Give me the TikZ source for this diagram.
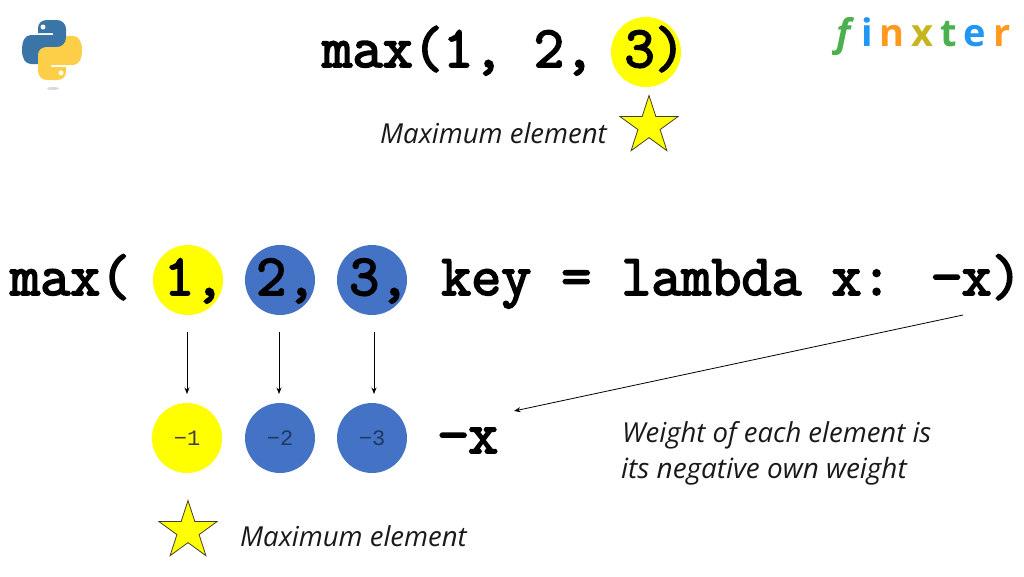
\documentclass[tikz,border=0pt]{standalone}
\usepackage{fontspec}
\usetikzlibrary{shapes.geometric,arrows.meta}
\setmainfont{Open Sans}
\newfontfamily\codefont[FakeBold=3]{Latin Modern Mono}
\newfontfamily\numfont{Liberation Mono}
\newfontfamily\logofont{Open Sans}
\definecolor{hlyellow}{HTML}{FFFF00}
\definecolor{hlblue}{HTML}{4472C4}
\definecolor{navy}{HTML}{1F3864}
\definecolor{pyblue}{HTML}{3A75A8}
\definecolor{pyyellow}{HTML}{FDCF48}
\definecolor{fgreen}{HTML}{4CAF50}
\definecolor{fblue}{HTML}{2196F3}
\definecolor{forange}{HTML}{FF9A1F}
\definecolor{folive}{HTML}{C6B51E}
\tikzset{
  code/.style={inner sep=0pt,anchor=base west,font=\codefont\fontsize{58.3}{58}\selectfont},
  topcodestyle/.style={inner sep=0pt,anchor=base west,font=\codefont\fontsize{58.7}{58}\selectfont},
  ital/.style={inner sep=0pt,anchor=base west,font=\itshape\fontsize{27.5}{30}\selectfont,text=black!90},
  ball/.style={circle,minimum size=70pt,inner sep=0pt,font=\numfont\fontsize{22}{22}\selectfont},
  yball/.style={ball,fill=hlyellow,text=black!75},
  bball/.style={ball,fill=hlblue,text=navy},
  maxstar/.style={star,star points=5,star point ratio=2.618,minimum size=61pt,inner sep=0pt,fill=hlyellow,draw=black!70!olive,line width=.8pt},
  conn/.style={draw=black,line width=.8pt,-{Stealth[length=6.5pt,width=5pt]}},
  flet/.style={inner sep=0pt,anchor=base west,font=\logofont\bfseries\fontsize{38}{38}\selectfont}
}
\begin{document}
\begin{tikzpicture}[x=1pt,y=-1pt]
\useasboundingbox (0,0) rectangle (1024,576);
% python logo
\fill[black!25,opacity=.6] (53,88.5) ellipse (6pt and 1.5pt);
\def\pysnake{(38,36) -- (38,28) .. controls (38,23) and (42,20) .. (47,20) -- (57,20) .. controls (62,20) and (66,24) .. (66,29) -- (66,45) .. controls (66,50) and (62,53) .. (57,53) -- (47,53) .. controls (42,53) and (38,57) .. (38,62) -- (38,64) -- (31,64) .. controls (25,64) and (22,58) .. (22,50) .. controls (22,41) and (25,35) .. (31,35) -- (53,35) -- (53,33) -- (38,33) -- cycle}
\fill[pyblue] \pysnake;
\fill[white] (43,27) circle (2.5pt);
\begin{scope}[rotate around={180:(52,50)}]
\fill[pyyellow] \pysnake;
\fill[white] (43,27) circle (2.5pt);
\end{scope}
% finxter
\node[flet,text=fgreen,font=\logofont\bfseries\itshape\fontsize{38}{38}\selectfont] (lf) at (836,46) {f};
\node[flet,text=fblue] (li) at (861,46) {i};
\node[flet,text=forange] (ln) at (879,46) {n};
\node[flet,text=folive] (lx) at (911,46) {x};
\node[flet,text=fgreen] (lt) at (940,46) {t};
\node[flet,text=fblue] (le) at (963,46) {e};
\node[flet,text=forange] (lr) at (993,46) {r};
% top
\node[yball] (top3) at (646,52) {};
\node[topcodestyle] (topcode) at (322,67) {max(1, 2, 3)};
\node[ital] (topmax) at (380,143) {Maximum element};
\node[maxstar] (topstar) at (649,126) {};
% main row
\node[yball] (c1) at (188,280) {};
\node[bball] (c2) at (280,280) {};
\node[bball] (c3) at (372,280) {};
\node[code] (mx) at (10,295) {max(};
\node[code] (n1) at (164,295) {1,};
\node[code] (n2) at (256,295) {2,};
\node[code] (n3) at (349,295) {3,};
\node[code] (key) at (441,295) {key = lambda x: −x)};
% lower row
\node[yball] (d1) at (187,438) {−1};
\node[bball] (d2) at (280,438) {−2};
\node[bball] (d3) at (372,438) {−3};
\node[code] (negx) at (438,453) {−x};
\node[ital] (w1) at (622,442) {Weight of each element is};
\node[ital,font=\itshape\fontsize{27.9}{30}\selectfont] (w2) at (621,478) {its negative own weight};
\node[maxstar] (botstar) at (188,531) {};
\node[ital] (botmax) at (240,546) {Maximum element};
% connectors
\coordinate (a1s) at (187,332); \coordinate (a1e) at (187,394);
\coordinate (a2s) at (279,332); \coordinate (a2e) at (279,394);
\coordinate (a3s) at (374,332); \coordinate (a3e) at (374,394);
\coordinate (a4s) at (963,315); \coordinate (a4e) at (514,411);
\draw[conn] (a1s) -- (a1e);
\draw[conn] (a2s) -- (a2e);
\draw[conn] (a3s) -- (a3e);
\draw[conn] (a4s) -- (a4e);
\end{tikzpicture}
\end{document}
